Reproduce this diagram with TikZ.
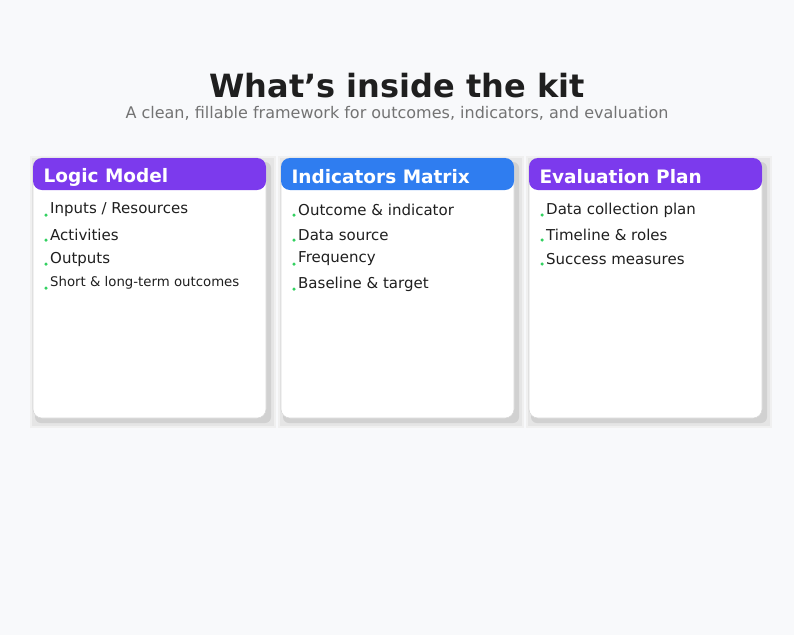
\documentclass[tikz,border=0pt]{standalone}
\usepackage{fontspec}
\setmainfont{DejaVu Sans}
\begin{document}
\begin{tikzpicture}[x=1pt,y=-1pt,
  card/.style={fill=white,draw=black!15,line width=0.6pt,rounded corners=9pt},
  head/.style={rounded corners=9pt},
  htext/.style={anchor=west,text=white,font=\bfseries\fontsize{18.5}{20}\selectfont},
  item/.style={anchor=west,text=black!88,font=\fontsize{15}{17}\selectfont,inner sep=0pt},
  dot/.style={circle,fill=green!55!teal!80,inner sep=0pt,minimum size=3.5pt}]
\fill[fill={rgb,255:red,248;green,249;blue,251}] (0,0) rectangle (794,635);
\useasboundingbox (0,0) rectangle (794,635);
\node (title) at (397,86) {\bfseries\fontsize{32}{36}\selectfont\color{black!88}What’s inside the kit};
\node (sub) at (397,113) {\fontsize{16}{18}\selectfont\color{black!55}A clean, fillable framework for outcomes, indicators, and evaluation};
\definecolor{purp}{RGB}{124,58,237}
\definecolor{blu}{RGB}{47,125,240}
\foreach \x/\c/\n in {33/purp/a,281/blu/b,529/purp/c}{
  \fill[black!6] (\x-3,156) rectangle (\x+243,428);
  \fill[black!10] (\x-1,158) rectangle (\x+241,426);
  \fill[black!18,rounded corners=6pt] (\x+2,162) rectangle (\x+238,423);
  \draw[card] (\x,158) rectangle (\x+233,418);
  \fill[head,fill=\c] (\x,158) rectangle (\x+233,190);
}
\node[htext] (ha) at (40,177) {Logic Model};
\node[htext] (hb) at (288,177) {Indicators Matrix};
\node[htext] (hc) at (536,177) {Evaluation Plan};
\foreach \x/\n in {50/a,298/b,546/c}{}
\node[item] (a1) at (50,210) {Inputs / Resources};
\node[item] (a2) at (50,235) {Activities};
\node[item] (a3) at (50,259) {Outputs};
\node[item,font=\fontsize{13.3}{15}\selectfont] (a4) at (50,283) {Short \& long-term outcomes};
\node[item] (b1) at (298,210) {Outcome \& indicator};
\node[item] (b2) at (298,235) {Data source};
\node[item] (b3) at (298,259) {Frequency};
\node[item] (b4) at (298,284) {Baseline \& target};
\node[item] (c1) at (546,210) {Data collection plan};
\node[item] (c2) at (546,235) {Timeline \& roles};
\node[item] (c3) at (546,259) {Success measures};
\foreach \n in {a1,a2,a3,a4,b1,b2,b3,b4,c1,c2,c3}{
  \node[dot] at ([xshift=-4pt,yshift=-5pt]\n.west) {};
}
\end{tikzpicture}
\end{document}
